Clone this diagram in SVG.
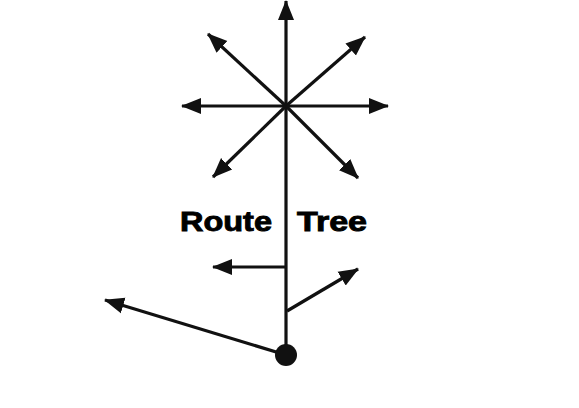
<svg xmlns="http://www.w3.org/2000/svg" width="579" height="408" viewBox="0 0 579 408">
<style>
.c{stroke:#111;stroke-width:3.2;fill:none;marker-end:url(#ah)}
.p{stroke:#111;stroke-width:3.2;fill:none}
.t{font-family:"Liberation Sans",Arial,sans-serif;font-weight:bold;font-size:27px;fill:#000;stroke:#000;stroke-width:0.9}
</style>
<defs>
<marker id="ah" markerUnits="userSpaceOnUse" markerWidth="22" markerHeight="18" refX="19" refY="9" orient="auto">
<path d="M0,1 L20,9 L0,17 Z" fill="#111"/>
</marker>
</defs>
<rect width="579" height="408" fill="#fff"/>
<g id="connectors">
<line class="p" x1="286" y1="106" x2="286" y2="355"/>
<line class="c" x1="286" y1="106" x2="286" y2="1"/>
<line class="c" x1="286" y1="106" x2="208" y2="34"/>
<line class="c" x1="286" y1="106" x2="365" y2="37"/>
<line class="c" x1="286" y1="106" x2="182" y2="106"/>
<line class="c" x1="286" y1="106" x2="388" y2="106"/>
<line class="c" x1="286" y1="106" x2="213" y2="177"/>
<line class="c" x1="286" y1="106" x2="358" y2="178"/>
<line class="c" x1="286" y1="267" x2="213" y2="267"/>
<line class="c" x1="287" y1="311" x2="358" y2="269"/>
<line class="c" x1="286" y1="355" x2="105" y2="300"/>
</g>
<g id="root"><circle cx="286" cy="355" r="11" fill="#111"/></g>
<g id="label"><text class="t" x="180" y="231" textLength="92" lengthAdjust="spacingAndGlyphs">Route</text><text class="t" x="297" y="231" textLength="70" lengthAdjust="spacingAndGlyphs">Tree</text></g>
</svg>
